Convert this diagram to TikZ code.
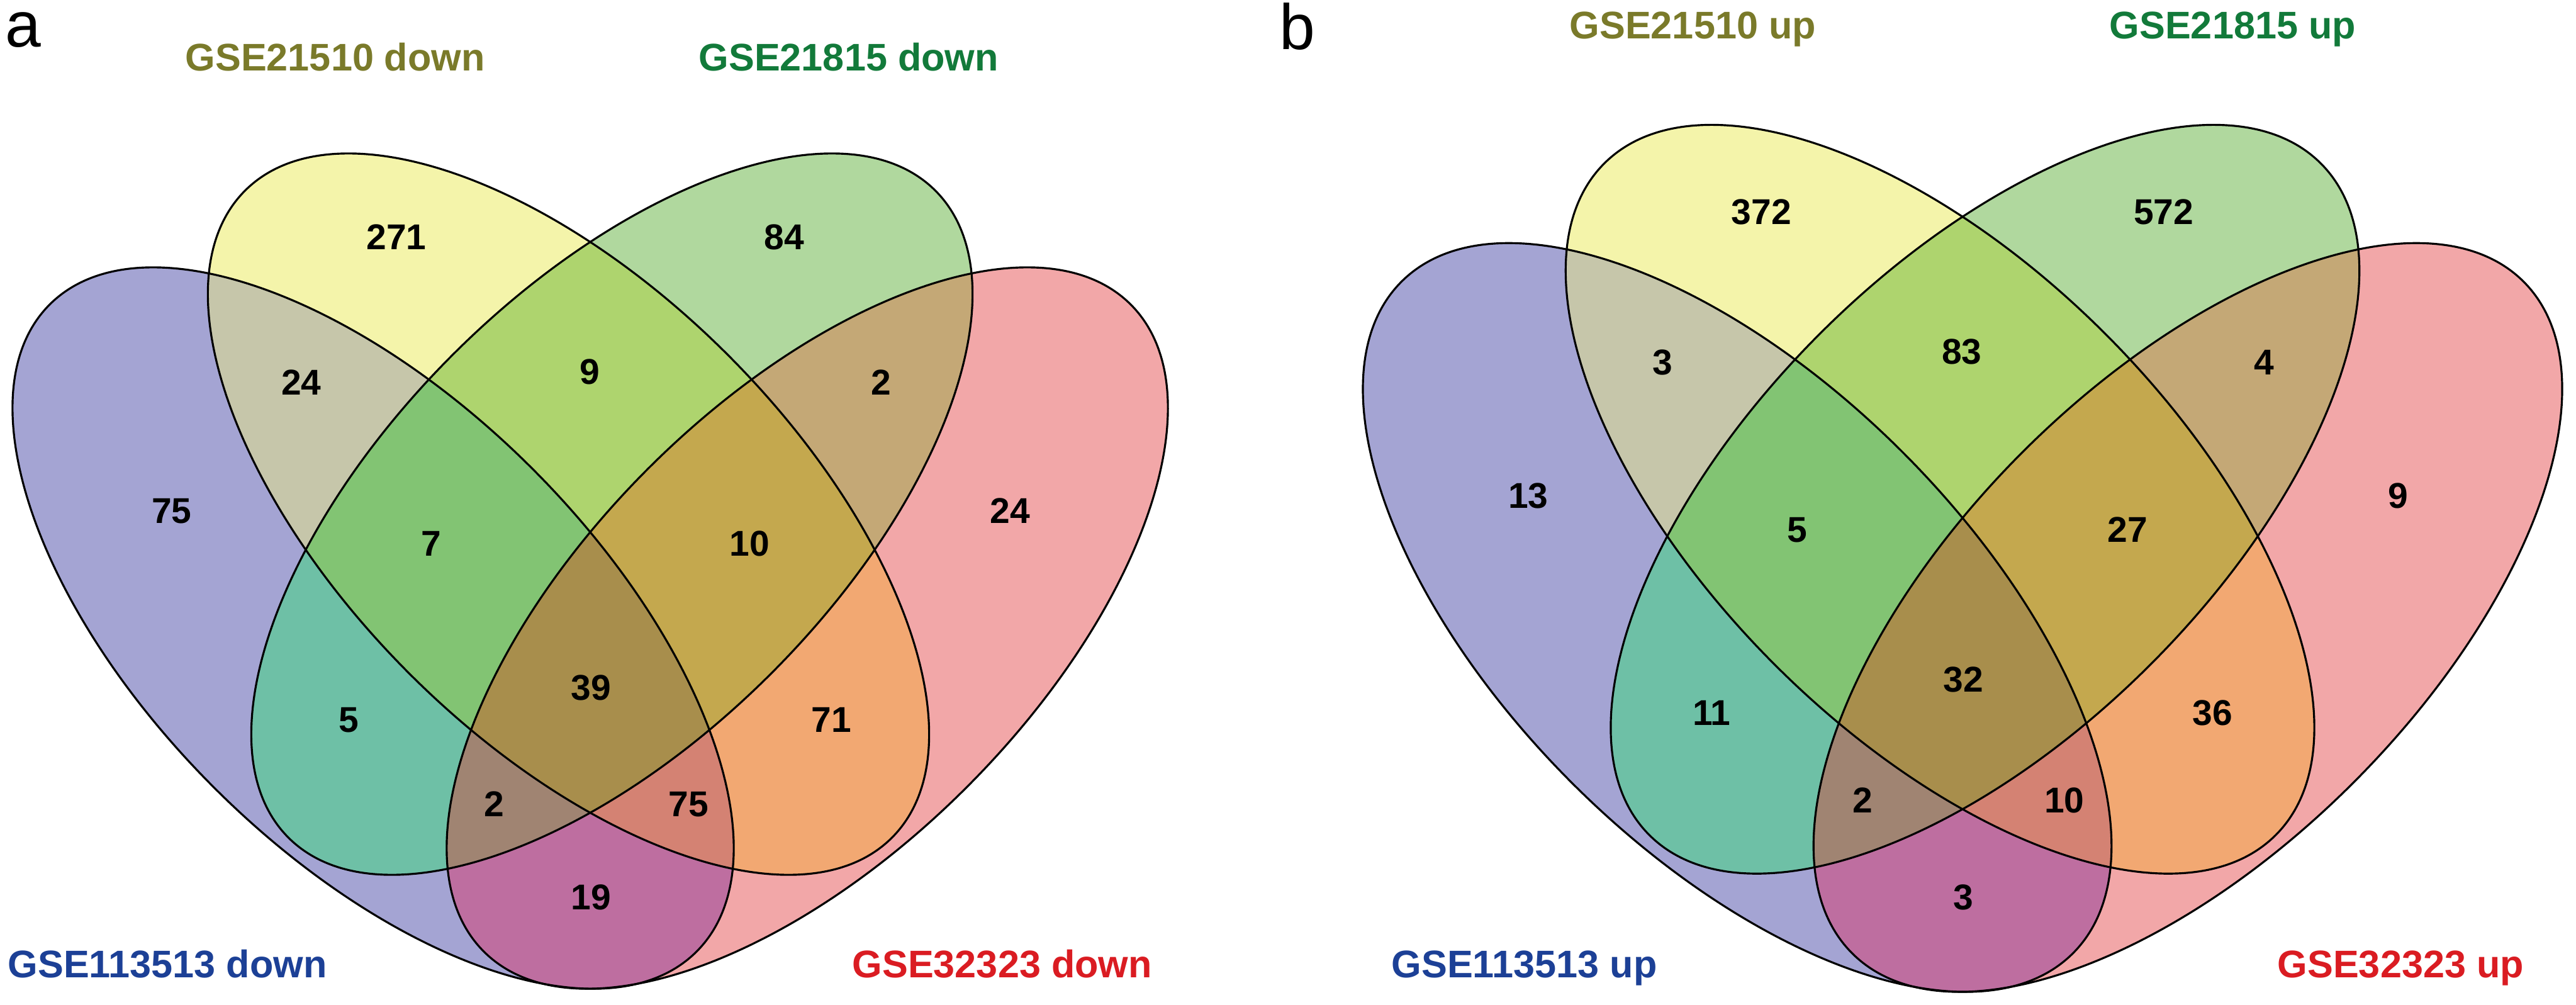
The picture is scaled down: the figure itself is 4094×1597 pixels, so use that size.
\documentclass[tikz,border=0pt]{standalone}
\usepackage{fontspec}
\setmainfont{Liberation Sans}
\definecolor{cB}{HTML}{A4A4D3}
\definecolor{cY}{HTML}{F4F4AA}
\definecolor{cG}{HTML}{B0D89E}
\definecolor{cR}{HTML}{F2A7A8}
\definecolor{cBY}{HTML}{C6C6AA}
\definecolor{cYG}{HTML}{AED46E}
\definecolor{cGR}{HTML}{C4A876}
\definecolor{cBG}{HTML}{6EC0A6}
\definecolor{cBR}{HTML}{BE6EA0}
\definecolor{cYR}{HTML}{F2A872}
\definecolor{cBYG}{HTML}{82C473}
\definecolor{cYGR}{HTML}{C4A84E}
\definecolor{cBGR}{HTML}{A08472}
\definecolor{cBYR}{HTML}{D48273}
\definecolor{cBYGR}{HTML}{A88E4C}
\definecolor{tY}{RGB}{122,122,42}
\definecolor{tG}{RGB}{18,122,58}
\definecolor{tB}{RGB}{28,64,150}
\definecolor{tR}{RGB}{218,28,34}
\tikzset{
  eB/.style={rotate around={-45:(593,998)}},
  eY/.style={rotate around={-45:(903.5,817)}},
  eG/.style={rotate around={45:(972.5,817)}},
  eR/.style={rotate around={45:(1283,998)}},
  outline/.style={draw=black,line width=0.9pt},
  num/.style={inner sep=0pt,font=\fontsize{16.2}{19}\selectfont\bfseries},
  setlabel/.style={inner sep=0pt,anchor=base west,font=\fontsize{17.4}{20}\selectfont\bfseries},
  panel/.style={inner sep=0pt,anchor=base west,font=\fontsize{29}{32}\selectfont}
}
\newcommand\pB{(593,998) ellipse [x radius=727, y radius=358]}
\newcommand\pY{(903.5,817) ellipse [x radius=727, y radius=358]}
\newcommand\pG{(972.5,817) ellipse [x radius=727, y radius=358]}
\newcommand\pR{(1283,998) ellipse [x radius=727, y radius=358]}
\newcommand\vennshapes{%
  \fill[cB,eB] \pB; \fill[cY,eY] \pY; \fill[cG,eG] \pG; \fill[cR,eR] \pR;
  \begin{scope}\clip[eB] \pB; \fill[cBY,eY] \pY; \end{scope}
  \begin{scope}\clip[eB] \pB; \fill[cBG,eG] \pG; \end{scope}
  \begin{scope}\clip[eB] \pB; \fill[cBR,eR] \pR; \end{scope}
  \begin{scope}\clip[eY] \pY; \fill[cYG,eG] \pG; \end{scope}
  \begin{scope}\clip[eY] \pY; \fill[cYR,eR] \pR; \end{scope}
  \begin{scope}\clip[eG] \pG; \fill[cGR,eR] \pR; \end{scope}
  \begin{scope}\clip[eB] \pB; \clip[eY] \pY; \fill[cBYG,eG] \pG; \end{scope}
  \begin{scope}\clip[eB] \pB; \clip[eY] \pY; \fill[cBYR,eR] \pR; \end{scope}
  \begin{scope}\clip[eB] \pB; \clip[eG] \pG; \fill[cBGR,eR] \pR; \end{scope}
  \begin{scope}\clip[eY] \pY; \clip[eG] \pG; \fill[cYGR,eR] \pR; \end{scope}
  \begin{scope}\clip[eB] \pB; \clip[eY] \pY; \clip[eG] \pG; \fill[cBYGR,eR] \pR; \end{scope}
  \draw[outline,eB] \pB; \draw[outline,eY] \pY; \draw[outline,eG] \pG; \draw[outline,eR] \pR;
}
\begin{document}
\begin{tikzpicture}[x=0.01cm,y=-0.01cm]
\useasboundingbox (0,0) rectangle (4094,1597);
% panel a
\begin{scope}
\vennshapes
\node[num] (aB) at (273,812) {75};
\node[num] (aY) at (630,377) {271};
\node[num] (aG) at (1246,377) {84};
\node[num] (aR) at (1605,812) {24};
\node[num] (aBY) at (479,608) {24};
\node[num] (aYG) at (937,591) {9};
\node[num] (aGR) at (1400,608) {2};
\node[num] (aBYG) at (685,864) {7};
\node[num] (aYGR) at (1191,864) {10};
\node[num] (aBYGR) at (939,1093) {39};
\node[num] (aBG) at (554,1144) {5};
\node[num] (aYR) at (1321,1144) {71};
\node[num] (aBGR) at (785,1278) {2};
\node[num] (aBYR) at (1094,1278) {75};
\node[num] (aBR) at (939,1426) {19};
\end{scope}
% panel b
\begin{scope}[shift={(3119,1577)},scale=1.038,shift={(-938,-1572)}]
\vennshapes
\node[num] (bB) at (273,812) {13};
\node[num] (bY) at (630,377) {372};
\node[num] (bG) at (1246,377) {572};
\node[num] (bR) at (1605,812) {9};
\node[num] (bBY) at (479,608) {3};
\node[num] (bYG) at (937,591) {83};
\node[num] (bGR) at (1400,608) {4};
\node[num] (bBYG) at (685,864) {5};
\node[num] (bYGR) at (1191,864) {27};
\node[num] (bBYGR) at (939,1093) {32};
\node[num] (bBG) at (554,1144) {11};
\node[num] (bYR) at (1321,1144) {36};
\node[num] (bBGR) at (785,1278) {2};
\node[num] (bBYR) at (1094,1278) {10};
\node[num] (bBR) at (939,1426) {3};
\end{scope}
% labels
\node[panel] (pa) at (8,75) {a};
\node[panel] (pb) at (2033,79) {b};
\node[setlabel,text=tY] (la1) at (294,113) {GSE21510 down};
\node[setlabel,text=tG] (la2) at (1110,113) {GSE21815 down};
\node[setlabel,text=tB] (la3) at (12,1553) {GSE113513 down};
\node[setlabel,text=tR] (la4) at (1354,1553) {GSE32323 down};
\node[setlabel,text=tY] (lb1) at (2494,62) {GSE21510 up};
\node[setlabel,text=tG] (lb2) at (3352,62) {GSE21815 up};
\node[setlabel,text=tB] (lb3) at (2211,1553) {GSE113513 up};
\node[setlabel,text=tR] (lb4) at (3619,1553) {GSE32323 up};
\end{tikzpicture}
\end{document}
